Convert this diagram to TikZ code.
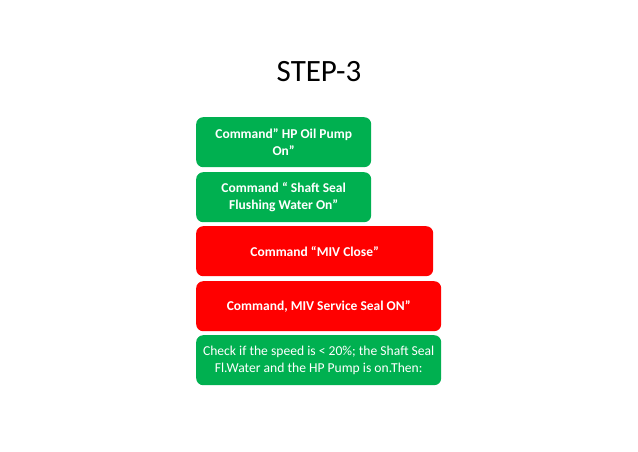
\documentclass[tikz,border=0pt]{standalone}
\usepackage{fontspec}
\setmainfont{Carlito}
\usepackage{xcolor}
\usetikzlibrary{positioning}

\definecolor{stepgreen}{RGB}{0,176,80}
\definecolor{stepred}{RGB}{255,0,0}

\begin{document}
\begin{tikzpicture}[x=1pt,y=1pt,
    box/.style={shape=rectangle, rounded corners=7pt, anchor=north west,
      minimum height=50pt, inner sep=2pt, align=center, text=white,
      font=\fontsize{13.5}{16.5}\selectfont\bfseries},
    okbox/.style={box, fill=stepgreen},
    cmdbox/.style={box, fill=stepred}]
    \useasboundingbox (0,0) rectangle (638,-451);

    \node (title) at (319,-72) {\fontsize{31}{36}\selectfont STEP-3};

    \node[okbox, minimum width=175pt] (oilpump) at (196,-117) {Command” HP Oil Pump\\On”};
    \node[okbox, minimum width=175pt] (flushing) at (196,-172) {Command “ Shaft Seal\\Flushing Water On”};
    \node[cmdbox, minimum width=237pt] (mivclose) at (196,-226) {Command “MIV Close”};
    \node[cmdbox, minimum width=245pt] (servseal) at (196,-281) {Command, MIV Service Seal ON”};
    \node[okbox, minimum width=245pt, font=\fontsize{13.6}{16.5}\selectfont] (check) at (196,-335)
      {Check if the speed is < 20\%; the Shaft Seal\\Fl.Water and the HP Pump is on.Then:};
  \end{tikzpicture}
\end{document}
